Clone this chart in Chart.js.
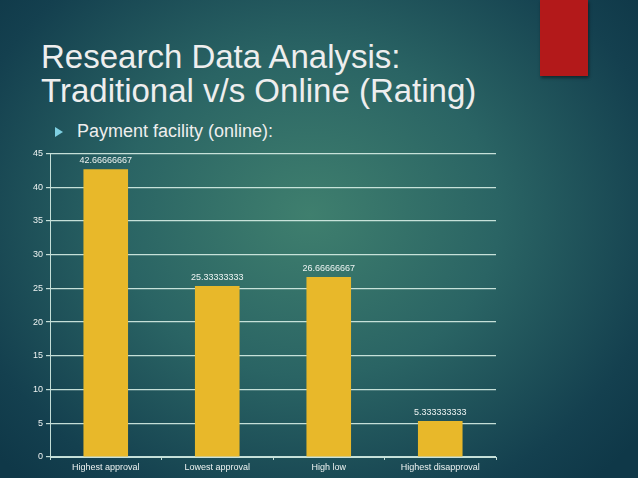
<!DOCTYPE html>
<html>
<head>
<meta charset="utf-8">
<script src="https://cdn.jsdelivr.net/npm/chart.js@4.4.0/dist/chart.umd.min.js"></script>
<style>
  html, body { margin: 0; padding: 0; }
  body {
    width: 638px; height: 478px; overflow: hidden; position: relative;
    background: radial-gradient(ellipse 420px 360px at 310px 215px, #3f7f6e 0%, #2a6464 45%, #14404f 85%, #0f3848 100%);
    font-family: "Liberation Sans", Arial, sans-serif;
  }
  .redbar {
    position: absolute; left: 540px; top: 0; width: 48px; height: 76px;
    background: #b3191a; box-shadow: 1px 2px 3px rgba(0,0,0,0.45);
  }
  .title {
    position: absolute; left: 41px; top: 40px; color: #eeeeee;
    font-size: 33px; line-height: 34px; white-space: nowrap;
  }
  .bullet {
    position: absolute; left: 55px; top: 127px; width: 0; height: 0;
    border-top: 5px solid transparent; border-bottom: 5px solid transparent;
    border-left: 8px solid #7fd0e2;
  }
  .sub {
    position: absolute; left: 77px; top: 120px; color: #eeeeee;
    font-size: 18px; line-height: 22px; white-space: nowrap;
  }
  #wrap { position: absolute; left: 0; top: 145px; width: 638px; height: 333px; }
</style>
</head>
<body>
<div class="redbar"></div>
<div class="title">Research Data Analysis:<br>Traditional v/s Online (Rating)</div>
<div class="bullet"></div>
<div class="sub">Payment facility (online):</div>
<div id="wrap"><canvas id="chart"></canvas></div>
<script>
// 차트 데이터
const categories = ["Highest approval", "Lowest approval", "High low", "Highest disapproval"];
const ratings = [42.66666667, 25.33333333, 26.66666667, 5.333333333];
const yTicks = [0, 5, 10, 15, 20, 25, 30, 35, 40, 45];

const gridColor = "rgba(215, 238, 230, 0.9)";
const textColor = "#eef3f2";

// 막대 위에 값 표시
const valueLabels = {
  id: "valueLabels",
  afterDatasetsDraw(chart) {
    const ctx = chart.ctx;
    const meta = chart.getDatasetMeta(0);
    ctx.save();
    ctx.font = "9px 'Liberation Sans', Arial, sans-serif";
    ctx.fillStyle = textColor;
    ctx.textAlign = "center";
    ctx.textBaseline = "bottom";
    meta.data.forEach((bar, i) => {
      ctx.fillText(String(ratings[i]), bar.x, bar.y - 4);
    });
    ctx.restore();
  }
};

Chart.defaults.font.family = "'Liberation Sans', Arial, sans-serif";
Chart.defaults.color = textColor;

const ctx = document.getElementById("chart").getContext("2d");
new Chart(ctx, {
  type: "bar",
  data: {
    labels: categories,
    datasets: [{
      data: ratings,
      backgroundColor: "#e8b82a",
      categoryPercentage: 1,
      barPercentage: 0.4
    }]
  },
  options: {
    responsive: true,
    maintainAspectRatio: false,
    animation: false,
    layout: { padding: { top: 8, right: 142, left: 0, bottom: 0 } },
    plugins: { legend: { display: false }, tooltip: { enabled: false } },
    scales: {
      x: {
        afterFit: (s) => { s.height = 21; },
        grid: { drawOnChartArea: false, drawTicks: true, tickLength: 3, color: gridColor },
        border: { display: true, color: gridColor },
        ticks: { font: { size: 9 }, color: textColor, padding: 2 }
      },
      y: {
        min: 0, max: 45,
        afterFit: (s) => { s.width = 50; },
        afterBuildTicks: (s) => { s.ticks = yTicks.map(v => ({ value: v })); },
        grid: { color: gridColor, tickLength: 4, lineWidth: 1.2 },
        border: { display: true, color: gridColor },
        ticks: { font: { size: 9 }, color: textColor, padding: 3 }
      }
    }
  },
  plugins: [valueLabels]
});
</script>
</body>
</html>
